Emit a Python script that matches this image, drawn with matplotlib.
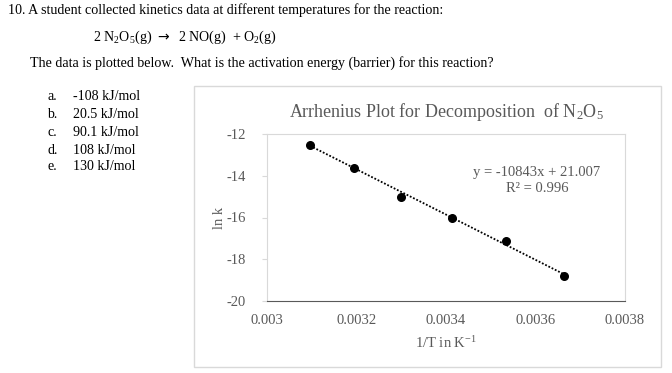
import numpy as np
import matplotlib
matplotlib.use("Agg")
import matplotlib.pyplot as plt
from matplotlib.patches import Rectangle

# ── Data ────────────────────────────────────────────────────────────────────
inv_T = [0.003096, 0.003195, 0.003300, 0.003413, 0.003534, 0.003663]
ln_k = [-12.53, -13.64, -15.03, -16.03, -17.12, -18.79]
fit_slope = -10843
fit_intercept = 21.007
fit_r2 = 0.996

x_ticks = [0.003, 0.0032, 0.0034, 0.0036, 0.0038]
x_tick_labels = ["0.003", "0.0032", "0.0034", "0.0036", "0.0038"]
y_ticks = [-20, -18, -16, -14, -12]

choice_letters = ["a.", "b.", "c.", "d.", "e."]
choice_values = ["-108 kJ/mol", "20.5 kJ/mol", "90.1 kJ/mol", "108 kJ/mol", "130 kJ/mol"]

W, H = 672, 373
plt.rcParams["font.family"] = ["Liberation Serif", "DejaVu Serif"]
plt.rcParams["mathtext.fontset"] = "custom"
plt.rcParams["mathtext.rm"] = "Liberation Serif"
plt.rcParams["mathtext.it"] = "Liberation Serif:italic"
plt.rcParams["axes.unicode_minus"] = False

fig = plt.figure(figsize=(W / 100, H / 100), dpi=100)


def fx(x):
    return x / W


def fy(y):
    return 1 - y / H


# ── Question text ───────────────────────────────────────────────────────────
q_size = 10.1
fig.text(fx(8), fy(10), "10. A student collected kinetics data at different temperatures for the reaction:",
         fontsize=q_size, va="center", ha="left")
fig.text(fx(93), fy(37), "2 N$_2$O$_5$(g)", fontsize=q_size, va="center", ha="left")
fig.text(fx(163), fy(37), "→", fontsize=q_size, va="center", ha="center", family="DejaVu Sans")
fig.text(fx(178), fy(37), "2 NO(g)  + O$_2$(g)", fontsize=q_size, va="center", ha="left")
fig.text(fx(30), fy(63), "The data is plotted below.  What is the activation energy (barrier) for this reaction?",
         fontsize=q_size, va="center", ha="left")

choice_y = [97, 115, 133, 150, 166]
for letter, value, yy in zip(choice_letters, choice_values, choice_y):
    fig.text(fx(47), fy(yy), letter, fontsize=q_size, va="center", ha="left")
    fig.text(fx(73), fy(yy), value, fontsize=q_size, va="center", ha="left")

# ── Chart frame ─────────────────────────────────────────────────────────────
fig.patches.append(Rectangle((fx(194), fy(367)), fx(661) - fx(194), fy(86) - fy(367),
                             transform=fig.transFigure, facecolor="white",
                             edgecolor="#d9d9d9", linewidth=1.0, zorder=-1))

ax = fig.add_axes([fx(267), fy(301), fx(625) - fx(267), fy(134) - fy(301)])
ax.set_zorder(2)
ax.set_facecolor("none")

ax.scatter(inv_T, ln_k, s=30, color="black", zorder=3)
xfit = np.array([inv_T[0], inv_T[-1]])
ax.plot(xfit, fit_slope * xfit + fit_intercept, color="black", linestyle=(0, (1, 1)),
        linewidth=1.3, zorder=2)

ax.set_xlim(0.003, 0.0038)
ax.set_ylim(-20, -12)
ax.set_xticks(x_ticks)
ax.set_xticklabels(x_tick_labels)
ax.set_yticks(y_ticks)

grey = "#595959"
for side in ["top", "right", "left"]:
    ax.spines[side].set_color("#d9d9d9")
    ax.spines[side].set_linewidth(0.8)
ax.spines["bottom"].set_color(grey)
ax.spines["bottom"].set_linewidth(0.8)

ax.tick_params(axis="x", length=0, pad=9, labelsize=10.5, labelcolor=grey)
ax.tick_params(axis="y", length=3.5, width=0.8, color="#d9d9d9", pad=12,
               labelsize=10.5, labelcolor=grey)

ax.set_title("Arrhenius Plot for Decomposition  of N$_2$O$_5$", fontsize=13, color=grey, pad=12)
ax.set_xlabel("1/T in K$^{-1}$", fontsize=10.5, color=grey, labelpad=6)
ax.set_ylabel("ln k", fontsize=10.5, color=grey, labelpad=0)

ax.text(0.754, 0.772, f"y = {fit_slope}x + {fit_intercept}", transform=ax.transAxes,
        ha="center", va="center", fontsize=10.5, color=grey)
ax.text(0.754, 0.671, f"R² = {fit_r2}", transform=ax.transAxes,
        ha="center", va="center", fontsize=10.5, color=grey)

fig.savefig("out.png", dpi=100)
